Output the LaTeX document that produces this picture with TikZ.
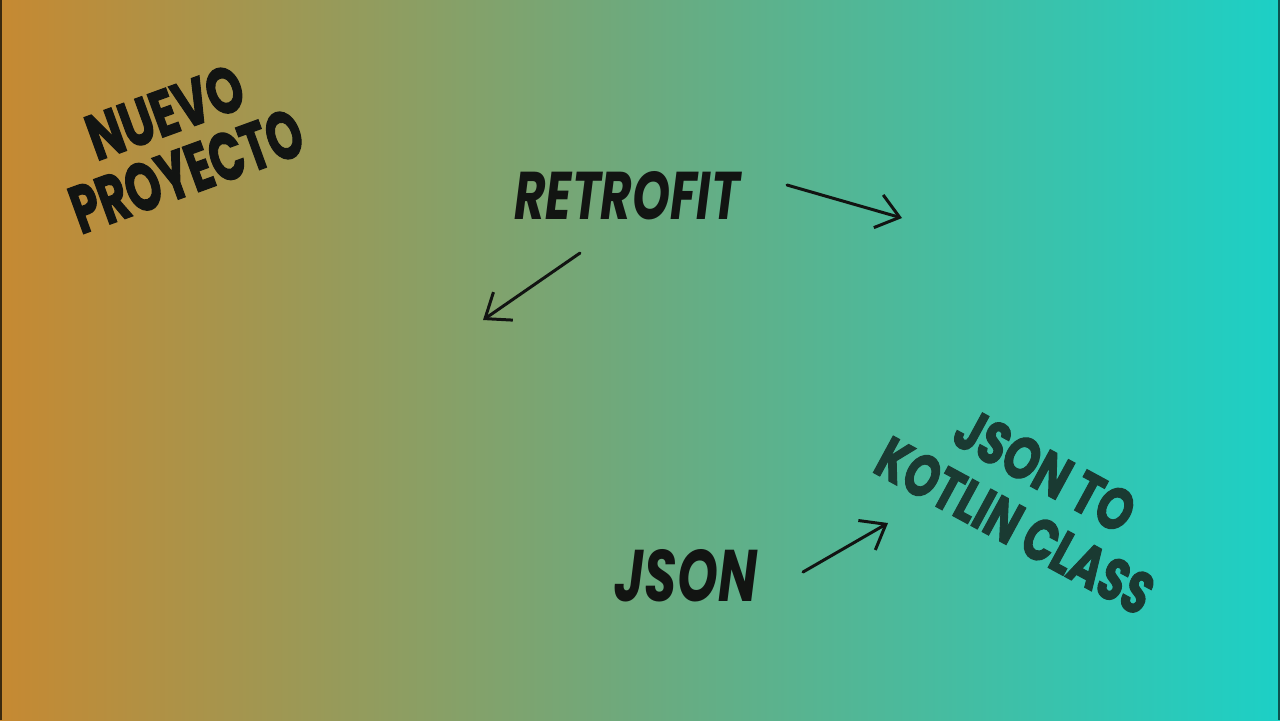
\documentclass[tikz,border=0pt]{standalone}
\usepackage{fontspec}
\setmainfont{Poppins}[BoldFeatures={FakeBold=2}]
\usetikzlibrary{arrows.meta}
\definecolor{bgL}{RGB}{198,137,50}
\definecolor{bgM}{RGB}{108,170,126}
\definecolor{bgR}{RGB}{28,208,198}
\definecolor{inkK}{RGB}{18,20,18}
\definecolor{inkG}{RGB}{26,58,50}
\newcommand\brushtxt[3]{\resizebox{#1}{#2}{\bfseries #3}}
\begin{document}
\begin{tikzpicture}[x=0.01cm,y=-0.01cm,
  lbl/.style={inner sep=0pt, text=inkK, align=center},
  arr/.style={draw=inkK, line width=0.85pt, line cap=round,
    -{Straight Barb[length=2.2mm,width=3.4mm,line width=0.85pt]}}]
\useasboundingbox (0,0) rectangle (1280,720);
\shade[left color=bgL, right color=bgR, middle color=bgM] (0,0) rectangle (1280,720);
\fill[black!70!bgL] (0,0) rectangle (2,720);
\fill[black!60!bgR] (1278,0) rectangle (1280,720);

\node[lbl, rotate=20] (nuevo) at (176,142)
  {\brushtxt{1.62cm}{0.46cm}{NUEVO}\\[0.115cm]\brushtxt{2.42cm}{0.48cm}{PROYECTO}};
\node[lbl] (retrofit) at (627,196) {\brushtxt{2.25cm}{0.48cm}{\itshape RETROFIT}};
\node[lbl] (json) at (686,576) {\brushtxt{1.42cm}{0.52cm}{\itshape JSON}};
\node[lbl, text=inkG, rotate=-28.5] (kotlin) at (1030,498)
  {\brushtxt{1.95cm}{0.42cm}{JSON TO}\\[0.17cm]\brushtxt{3.05cm}{0.42cm}{KOTLIN CLASS}};

\coordinate (a1s) at (787,185);
\coordinate (a1e) at (902,218);
\coordinate (a2s) at (580,253);
\coordinate (a2e) at (483,320);
\coordinate (a3s) at (803,572);
\coordinate (a3e) at (888,523);
\draw[arr] (a1s) -- (a1e);
\draw[arr] (a2s) -- (a2e);
\draw[arr] (a3s) -- (a3e);
\end{tikzpicture}
\end{document}
